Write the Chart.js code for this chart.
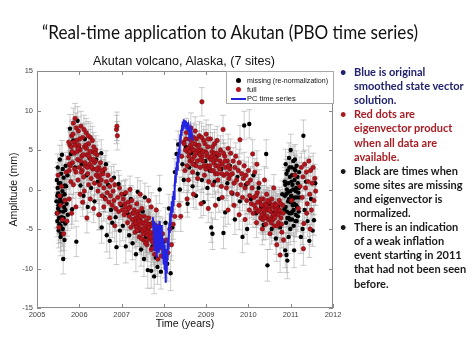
<!DOCTYPE html>
<html><head><meta charset="utf-8">
<script src="https://cdn.jsdelivr.net/npm/chart.js@4.4.1/dist/chart.umd.min.js"></script>
<style>
html,body{margin:0;padding:0;background:#fff;width:474px;height:355px;overflow:hidden}
#wrap{position:relative;width:474px;height:355px}
canvas{position:absolute;left:0;top:0}
.t{position:absolute;white-space:nowrap;transform-origin:left top;line-height:1}
#slideTitle{left:42px;top:21px;font-family:Lato,"Open Sans",sans-serif;font-size:20px;color:#111}
#chartTitle{left:93px;top:55px;font-family:"Liberation Sans",Arial,sans-serif;font-size:12.5px;color:#111}
#legend{position:absolute;left:226px;top:71px;width:106px;height:31px;border:1px solid #a8a8a8;background:#fff;font-family:"Liberation Sans",Arial,sans-serif;font-size:7.5px;color:#111}
#legend .row{position:absolute;left:0;height:9px;width:106px}
#legend .dot{position:absolute;left:9px;top:2px;width:5px;height:5px;border-radius:50%}
#legend .ln{position:absolute;left:4px;top:3.5px;width:15px;height:2px;background:#2222dd}
#legend .lt{position:absolute;left:20px;top:0.5px;white-space:nowrap;transform-origin:left top;line-height:1}
#bullets{position:absolute;left:0;top:0;font-family:Lato,"Open Sans",sans-serif;font-weight:700;font-size:11px}
#bullets .l{position:absolute;left:354px;white-space:nowrap;line-height:1;transform-origin:left top}
#bullets .b{position:absolute;left:340px;line-height:1}
</style>
</head><body>
<div id="wrap">
<canvas id="c" width="474" height="355"></canvas>
<div class="t" id="slideTitle">“Real-time application to Akutan (PBO time series)</div>
<div class="t" id="chartTitle">Akutan volcano, Alaska, (7 sites)</div>
<div id="legend">
  <div class="row" style="top:4px"><span class="dot" style="background:#000"></span><span class="lt" id="lg1">missing (re-normalization)</span></div>
  <div class="row" style="top:13px"><span class="dot" style="background:#b5121b"></span><span class="lt" id="lg2">full</span></div>
  <div class="row" style="top:22px"><span class="ln"></span><span class="lt" id="lg3">PC time series</span></div>
</div>
<div id="bullets"></div>
</div>
<script>
// ---------- DATA ----------
const xTicks = [2005, 2006, 2007, 2008, 2009, 2010, 2011, 2012];
const yTicks = [-15, -10, -5, 0, 5, 10, 15];

// "missing (re-normalization)" points: time (years), amplitude (mm), error (mm)
const blackT = [
2005.46,2005.47,2005.48,2005.49,2005.50,2005.51,2005.52,2005.53,2005.54,2005.55,2005.56,2005.57,2005.58,2005.59,2005.60,2005.61,2005.62,2005.63,2005.64,2005.65,2005.66,2005.67,2005.68,2005.70,2005.72,2005.73,
2005.47,2005.49,2005.51,2005.53,2005.55,2005.57,2005.59,2005.61,2005.63,2005.65,2005.67,2005.69,
2005.78,2005.80,2005.83,2005.86,2005.90,2005.93,2005.96,2006.00,2006.03,2006.06,2006.10,2006.13,2006.17,2006.20,2006.24,2006.28,2006.32,2006.36,2006.40,2006.44,2006.48,2006.52,2006.53,2006.56,2006.60,2006.63,2006.65,2006.68,2006.72,2006.75,2006.78,2006.82,2006.86,2006.88,2006.93,2006.96,2006.99,
2007.03,2007.07,2007.10,2007.14,2007.18,2007.22,2007.26,2007.30,2007.34,2007.38,2007.42,2007.46,2007.50,2007.53,2007.55,2007.58,2007.62,2007.66,2007.70,2007.73,2007.77,2007.81,2007.85,2007.90,2007.93,2008.00,2008.04,2008.08,2008.12,2008.16,2008.20,
2008.26,2008.30,2008.34,2008.38,2008.44,2008.47,2008.52,2008.56,2008.60,2008.64,2008.68,2008.72,2008.76,2008.80,2008.85,2008.90,2008.94,2008.98,2009.03,2009.08,2009.12,2009.15,2009.20,2009.25,2009.30,2009.36,2009.41,2009.45,2009.50,2009.56,2009.62,2009.68,2009.74,2009.80,2009.86,2009.90,2009.94,2009.97,2010.02,
2010.06,2010.12,2010.18,2010.24,2010.30,2010.36,2010.42,2010.45,2010.50,2010.55,2010.60,2010.65,2010.70,2010.75,2010.80,
2010.85,2010.86,2010.87,2010.88,2010.89,2010.90,2010.91,2010.92,2010.93,2010.94,2010.95,2010.96,2010.97,2010.98,2010.99,2011.00,2011.01,2011.02,2011.03,2011.04,2011.05,2011.06,2011.07,2011.08,2011.09,2011.10,2011.11,2011.12,2011.13,2011.14,2011.15,2011.16,2011.18,2011.20,
2010.86,2010.88,2010.90,2010.92,2010.94,2010.96,2010.98,2011.00,2011.02,2011.04,2011.06,2011.08,2011.10,2011.12,2011.14,2011.17,2011.19,2011.21,
2011.24,2011.28,2011.30,2011.33,2011.36,2011.40,2011.44,2011.48,2011.52,2011.55,2011.58,
2010.87,2010.89,2010.91,2010.93,2010.95,2010.97,2010.99,2011.01,2011.03,2011.05,2011.07,2011.09,2011.11,2011.13,2011.15,2011.17,2011.19,
2005.48,2005.50,2005.52,2005.54,2005.56,2005.58,2005.60,2005.62,2005.64,2005.66
];
const blackA = [
-1.5,1.2,-4.0,2.8,-0.5,-5.2,0.8,-2.8,3.8,-1.2,-6.0,2.0,-3.5,4.4,-0.2,-5.0,-8.8,1.5,-2.2,-6.4,0.5,-4.3,3.0,-1.8,1.8,-3.2,
-3.0,0.2,-2.0,-4.4,0.8,-5.6,-1.6,2.6,-3.6,-0.6,-2.6,0.4,
7.7,4.5,-2.5,6.2,2.8,-6.6,8.7,5.2,0.5,3.2,-0.8,6.4,1.8,-2.2,4.0,0.2,2.6,-1.5,3.8,1.0,-3.2,4.6,-4.8,2.2,-1.0,3.2,-5.8,0.6,-6.5,-2.6,-4.2,1.5,-3.5,-7.3,0.7,-5.2,-2.0,
-4.6,-0.6,-7.2,-3.0,-5.8,-1.2,-6.8,-3.8,-8.2,-0.3,-5.2,-7.6,-2.8,-8.8,-1.0,-6.0,-10.2,-4.4,-10.3,-7.2,-11.0,-8.6,-9.8,0.0,-10.4,-6.6,-4.2,-9.4,-2.4,-10.6,-4.8,
2.2,4.5,5.7,0.0,3.2,1.2,5.4,-1.8,2.8,4.6,0.4,3.2,-0.8,2.0,5.0,1.2,-1.6,3.6,0.2,2.4,-4.8,-5.6,1.0,4.2,-1.2,2.6,-5.5,-2.9,0.8,3.0,-0.5,-3.8,1.6,-1.5,-6.0,8.1,0.6,-5.0,8.3,
-1.2,1.8,-3.0,0.2,-2.2,-4.5,4.5,-9.6,-1.8,-5.0,-3.0,-6.2,-2.2,-4.8,-0.6,
-2.5,1.0,-7.7,3.2,-4.2,-8.3,0.0,-9.0,2.4,-1.5,-6.0,4.0,-3.0,1.6,-5.0,5.0,-0.8,2.8,-3.8,0.6,-2.0,3.6,-4.6,-7.7,1.2,-1.0,2.4,-3.2,0.2,3.0,-2.2,1.6,-0.4,2.2,
-0.8,-2.2,2.0,-3.6,0.8,-1.2,-3.8,-1.6,1.0,-2.8,0.0,-1.8,3.8,-0.2,-4.0,0.8,-2.8,-1.0,
-6.0,-5.0,6.8,-2.6,1.0,-4.0,-6.5,-1.2,-5.2,-3.9,0.8,
0.6,-0.6,-2.8,-0.4,-3.6,2.8,-0.2,-3.0,1.8,-1.2,-2.6,2.6,-4.0,-2.0,-1.0,-3.4,0.2,
-0.8,-2.4,-3.6,-1.6,-4.6,-0.8,-4.0,-2.8,0.4,-1.4
];
const blackE = [
1.8,1.6,2.0,1.7,1.8,2.2,1.6,1.9,1.8,1.7,2.4,1.6,2.0,1.8,1.7,2.2,1.9,1.6,1.8,2.3,1.6,2.0,1.7,1.8,1.6,2.0,
1.9,1.7,1.8,2.0,1.7,2.2,1.8,1.7,1.9,1.8,1.9,1.7,
1.8,1.7,1.9,1.8,1.6,1.9,1.8,1.7,1.6,1.8,1.7,1.9,1.6,1.8,1.7,1.6,1.8,1.7,1.8,1.6,1.9,1.7,2.0,1.6,1.8,1.7,2.1,1.6,2.2,1.8,1.9,1.7,1.8,2.2,1.7,2.0,1.8,
1.9,1.7,2.1,1.8,2.0,1.7,2.1,1.9,2.2,1.8,2.0,2.1,1.8,2.2,1.8,2.0,2.3,1.9,2.2,2.0,2.2,2.1,2.2,1.8,2.2,2.0,1.9,2.2,1.8,2.2,1.9,
1.7,1.8,1.7,1.6,1.7,1.6,1.8,1.7,1.6,1.8,1.6,1.7,1.7,1.6,1.8,1.6,1.7,1.7,1.6,1.7,1.9,2.0,1.6,1.8,1.7,1.7,2.0,1.8,1.6,1.7,1.7,1.9,1.6,1.7,2.0,1.8,1.6,1.9,1.8,
1.7,1.6,1.8,1.7,1.8,1.9,1.8,2.0,1.7,1.9,1.8,2.0,1.7,1.9,1.7,
1.9,1.8,2.2,1.9,2.0,2.2,1.8,2.3,1.8,1.9,2.1,1.9,1.9,1.8,2.0,2.0,1.8,1.9,2.0,1.8,1.9,1.9,2.0,2.2,1.8,1.8,1.9,1.9,1.8,1.9,1.9,1.8,1.8,1.9,
1.8,1.9,1.8,1.9,1.8,1.9,2.0,1.9,1.8,1.9,1.8,1.9,1.9,1.8,2.0,1.8,1.9,1.8,
2.1,2.0,2.0,1.9,1.8,2.0,2.1,1.8,2.0,1.9,1.8,
1.8,1.9,1.9,1.8,2.0,1.9,1.8,1.9,1.9,1.8,1.9,1.9,2.0,1.9,1.8,1.9,1.8,
1.8,1.9,2.0,1.8,2.1,1.8,2.0,1.9,1.7,1.8
];

// "full" points: time (years), amplitude (mm), error (mm)
const redT = [
2005.48,2005.50,2005.52,2005.54,2005.56,2005.58,2005.60,2005.63,2005.66,2005.69,2005.71,
2005.74,2005.76,2005.78,2005.80,2005.82,2005.84,2005.86,2005.88,2005.90,2005.92,
2005.94,2005.96,2005.98,2006.00,2006.02,2006.04,2006.06,2006.08,2006.10,2006.12,
2006.14,2006.16,2006.18,2006.20,2006.22,2006.24,2006.26,2006.28,2006.30,2006.32,
2006.34,2006.36,2006.38,2006.40,2006.42,2006.44,2006.46,2006.48,2006.50,2006.52,
2006.54,2006.56,2006.58,2006.60,2006.62,2006.64,2006.66,2006.68,2006.70,2006.72,
2006.74,2006.76,2006.78,2006.80,2006.82,2006.84,2006.86,2006.88,2006.89,2006.90,
2006.91,2006.93,2006.95,2006.97,
2005.75,2005.79,2005.83,2005.87,2005.91,2005.95,2005.99,2006.03,2006.07,2006.11,2006.15,2006.19,2006.23,2006.27,2006.31,2006.35,2006.39,2006.43,
2005.76,2005.82,2005.92,2006.02,2006.08,2006.18,2006.26,2006.34,2006.46,2006.58,2006.72,2006.84,2005.86,2005.97,2006.12,2006.22,
2007.00,2007.02,2007.04,2007.06,2007.08,2007.10,2007.12,2007.14,2007.16,2007.18,
2007.20,2007.22,2007.24,2007.26,2007.28,2007.30,2007.32,2007.34,2007.36,2007.38,
2007.40,2007.42,2007.44,2007.46,2007.48,2007.50,2007.52,2007.54,2007.56,2007.58,
2007.60,2007.62,2007.64,2007.66,2007.68,2007.70,2007.72,2007.74,2007.76,2007.78,
2007.80,2007.82,2007.84,2007.86,2007.88,2007.90,2007.92,2007.94,2007.97,2008.00,
2008.03,2008.06,2008.10,2008.14,2008.18,2008.22,2008.26,2007.20,2007.44,2007.64,
2007.82,2007.70,
2007.31,2007.35,2007.39,2007.43,2007.47,2007.51,2007.55,2007.59,2007.63,2007.67,2007.71,2007.75,2007.79,2007.83,2007.87,2007.91,
2008.42,2008.46,2008.50,2008.53,2008.56,2008.58,2008.60,2008.62,2008.64,2008.66,
2008.68,2008.70,2008.72,2008.74,2008.76,2008.78,2008.80,2008.82,2008.84,2008.86,
2008.88,2008.90,2008.92,2008.94,2008.96,2008.98,2009.00,2009.02,2009.04,2009.06,
2009.08,2009.10,2009.12,2009.14,2009.16,2009.18,2009.20,2009.22,2009.24,2009.26,
2009.28,2009.30,2009.32,2009.34,2009.36,2009.38,2009.40,2009.42,2009.44,2009.46,
2009.48,2009.50,2009.52,2009.54,2009.56,2009.58,2009.60,2009.62,2009.64,2009.66,
2009.68,2009.70,2009.72,2009.74,2009.76,2009.78,2009.80,2009.82,2009.84,2009.86,
2009.88,2009.90,2009.92,2009.94,2009.96,2009.98,2010.00,2010.03,
2008.51,2008.55,2008.59,2008.63,2008.67,2008.71,2008.75,2008.79,2008.83,2008.87,2008.91,2008.95,2008.99,2009.03,2009.07,2009.11,2009.15,2009.19,2009.23,2009.27,
2008.36,2008.40,2008.55,2008.70,2008.88,2009.05,2009.22,2009.38,2009.52,2009.66,2009.78,2009.92,2010.02,
2010.05,2010.07,2010.09,2010.11,2010.13,2010.15,2010.17,2010.19,2010.21,2010.23,
2010.25,2010.27,2010.29,2010.31,2010.33,2010.35,2010.37,2010.39,2010.41,2010.43,
2010.45,2010.47,2010.49,2010.51,2010.53,2010.55,2010.57,2010.59,2010.61,2010.63,
2010.65,2010.67,2010.69,2010.71,2010.73,2010.75,2010.77,2010.79,2010.81,2010.83,
2010.20,2010.10,2010.38,2010.60,
2010.32,2010.36,2010.40,2010.44,2010.48,2010.52,2010.56,2010.60,2010.64,2010.68,2010.72,2010.76,
2011.02,2011.10,2011.18,2011.22,2011.25,2011.27,2011.29,2011.31,2011.33,2011.35,
2011.37,2011.39,2011.41,2011.43,2011.45,2011.47,2011.49,2011.51,2011.53,2011.55,
2011.57,2011.59,2011.30,2011.46,2011.38,
2005.77,2005.81,2005.85,2005.89,2005.93,2005.97,2006.01,2006.05,2006.09,2006.13,2006.17,2006.21,2006.25,2006.29,2006.33,2006.37,2006.41,2006.45,2006.49,2006.53,
2007.29,2007.33,2007.37,2007.41,2007.45,2007.49,2007.53,2007.57,2007.61,2007.65,2007.69,2007.73,2007.77,2007.81,2007.85,2007.89,2007.93,2007.25,2007.17,2007.09,
2008.48,2008.52,2008.57,2008.61,2008.65,2008.69,2008.73,2008.77,2008.81,2008.85,2008.89,2008.93,2008.97,2009.01,2009.05,2009.09,2009.13,2009.17,2009.21,2009.25,2009.29,2009.33,2009.37,2009.41,2009.45,2009.49,2009.53,2009.57,
2010.26,2010.30,2010.34,2010.38,2010.42,2010.46,2010.50,2010.54,2010.58,2010.62,2010.66,2010.70,2010.74,2010.78,2010.82,2010.14,2010.18,2010.22
];
const redA = [
-3.0,1.8,-4.8,-0.8,-2.0,0.4,-3.8,-5.6,-1.4,2.2,-4.0,
4.0,2.4,5.6,1.0,6.8,3.4,8.4,4.6,9.0,2.2,
6.2,3.8,7.4,2.8,5.0,8.0,4.2,6.6,1.6,5.4,
3.0,7.2,4.4,2.0,5.8,3.2,6.6,1.4,4.8,2.6,
5.4,0.8,3.6,1.8,4.4,-0.2,2.8,0.6,3.4,1.2,
-0.8,2.0,0.2,2.6,-1.2,1.0,-0.4,1.8,-1.6,0.4,
-0.8,1.2,-2.0,-0.2,-1.4,0.6,-2.4,7.6,8.0,6.8,
-1.0,-2.8,0.2,-1.8,
6.0,3.0,4.8,6.0,5.6,4.8,5.6,3.6,2.4,7.6,5.6,2.8,4.2,3.8,6.2,3.4,5.0,2.4,
-1.2,-3.0,-2.2,-0.6,-1.6,-3.6,-1.2,-2.4,-3.2,-2.2,-3.6,-4.6,0.6,1.2,-0.2,0.6,
-0.6,-2.6,-1.2,-3.2,-1.8,-0.4,-2.8,-4.2,-1.6,-3.4,
-2.2,-4.8,-1.4,-3.0,-4.4,-2.6,-5.4,-3.6,-1.8,-4.6,
-2.8,-6.0,-3.8,-5.0,-2.4,-4.2,-6.4,-3.4,-5.4,-4.0,
-7.0,-5.0,-3.6,-6.2,-4.6,-7.6,-5.6,-4.2,-6.8,-8.2,
-5.2,-7.2,-6.0,-8.8,-4.6,-7.4,-6.2,-8.4,-5.6,-7.8,
-9.0,-6.4,-8.0,-5.0,-7.0,-4.4,-3.4,0.0,-0.6,-1.4,
-2.6,-2.2,
-3.8,-4.8,-3.2,-4.4,-6.2,-5.6,-4.6,-6.6,-4.4,-5.4,-6.4,-7.4,-6.2,-5.0,-7.0,-5.4,
4.2,6.0,2.4,7.2,4.8,1.2,6.4,3.6,7.8,5.2,
2.2,6.6,4.2,7.4,3.0,5.6,1.4,4.6,6.8,2.8,
5.0,11.1,3.6,6.2,1.8,4.8,7.0,3.0,5.4,1.0,
4.0,6.4,2.4,4.8,0.6,3.4,5.8,2.0,3.8,6.2,
1.2,4.4,2.6,5.0,0.4,3.2,7.6,1.8,4.2,2.8,
0.2,3.6,5.2,1.4,2.6,4.6,-0.4,2.0,3.6,0.8,
2.8,4.2,1.2,-0.6,2.4,3.4,6.3,0.6,2.0,-1.0,
1.4,3.0,0.2,1.8,-1.4,0.8,2.4,-0.8,
5.0,3.0,4.2,5.6,3.8,5.0,4.6,3.6,5.6,3.8,4.2,3.0,2.6,4.2,2.8,3.8,5.4,4.6,3.0,2.0,
-2.0,-3.4,-1.2,-0.6,-1.8,-2.4,-2.0,-1.0,-2.6,-2.0,-3.2,-3.8,-2.6,
1.2,-1.8,0.2,-3.0,-1.0,2.2,-2.4,-4.2,-0.4,-2.8,
0.8,-1.6,-3.6,-2.0,-5.0,-1.2,-3.0,-2.2,-4.4,-0.6,
-2.6,-3.8,-1.6,-5.6,-2.8,-1.2,-3.4,-2.2,-4.6,-1.8,
-3.0,-7.0,-2.4,-4.2,-1.4,-8.3,-3.6,-5.4,-2.0,-6.4,
3.2,4.5,1.2,0.2,
-3.2,-2.6,-1.8,-3.4,-2.4,-3.8,-2.0,-3.2,-2.6,-4.6,-3.0,-1.8,
-1.4,1.8,-2.4,0.4,2.8,-1.0,1.6,-4.3,3.2,0.2,
2.2,-1.8,1.0,3.6,-0.6,2.4,-2.6,0.8,2.8,-1.4,
1.4,-0.2,-7.5,-5.0,-3.0,
3.2,5.4,7.0,2.6,7.8,5.2,6.4,2.2,4.4,3.4,5.2,6.8,4.8,2.8,3.8,4.6,2.6,1.6,1.8,2.4,
-3.0,-4.2,-5.2,-4.0,-3.4,-5.2,-5.0,-6.8,-5.8,-4.8,-6.0,-6.6,-5.4,-6.6,-6.8,-6.0,-7.2,-3.8,-2.4,-2.2,
5.8,6.4,5.2,4.8,6.2,3.2,5.8,6.4,5.0,4.4,6.6,4.8,5.8,4.6,6.4,3.0,4.2,2.4,4.0,4.6,3.0,3.6,2.0,4.6,3.6,2.0,3.0,1.8,
-2.6,-1.2,-3.8,-3.6,-2.0,-1.4,-2.6,-4.2,-3.8,-3.6,-2.0,-3.2,-2.6,-4.4,-3.0,-2.0,-0.8,-1.6
];
const redE = [
1.8,1.6,2.0,1.7,1.8,1.6,1.9,2.1,1.7,1.6,1.9,
1.7,1.6,1.8,1.6,1.8,1.7,1.9,1.7,1.9,1.6,
1.8,1.7,1.8,1.6,1.7,1.9,1.7,1.8,1.6,1.7,
1.7,1.8,1.7,1.6,1.8,1.7,1.8,1.6,1.7,1.7,
1.8,1.6,1.7,1.6,1.7,1.6,1.7,1.6,1.7,1.6,
1.7,1.6,1.6,1.7,1.7,1.6,1.6,1.7,1.7,1.6,
1.6,1.7,1.7,1.6,1.7,1.6,1.8,1.8,1.8,1.8,
1.7,1.8,1.6,1.7,
1.8,1.7,1.7,1.8,1.8,1.7,1.8,1.7,1.6,1.8,1.8,1.7,1.7,1.7,1.8,1.7,1.8,1.7,
1.8,1.9,1.8,1.7,1.8,1.9,1.7,1.8,1.9,1.8,1.9,2.0,1.7,1.6,1.7,1.6,
1.7,1.8,1.7,1.8,1.7,1.7,1.8,1.9,1.7,1.8,
1.8,1.9,1.7,1.8,1.9,1.8,2.0,1.9,1.8,1.9,
1.8,2.0,1.9,1.9,1.8,1.9,2.0,1.9,2.0,1.9,
2.1,2.0,1.9,2.0,1.9,2.1,2.0,1.9,2.1,2.1,
2.0,2.1,2.0,2.2,1.9,2.1,2.0,2.2,2.0,2.1,
2.2,2.0,2.1,1.9,2.0,1.9,1.9,1.7,1.7,1.8,
1.8,1.8,
1.9,1.9,1.8,1.9,2.0,2.0,1.9,2.0,1.9,2.0,2.0,2.1,2.0,2.0,2.1,2.0,
1.8,1.8,1.7,1.8,1.7,1.6,1.8,1.7,1.9,1.8,
1.6,1.8,1.7,1.8,1.7,1.8,1.6,1.7,1.8,1.7,
1.7,1.8,1.7,1.8,1.6,1.7,1.8,1.7,1.8,1.6,
1.7,1.8,1.7,1.7,1.6,1.7,1.8,1.6,1.7,1.8,
1.6,1.7,1.7,1.8,1.6,1.7,1.8,1.6,1.7,1.7,
1.6,1.7,1.8,1.6,1.7,1.8,1.6,1.7,1.7,1.6,
1.7,1.7,1.6,1.7,1.7,1.7,1.8,1.6,1.7,1.7,
1.6,1.7,1.6,1.7,1.7,1.6,1.7,1.7,
1.8,1.7,1.7,1.8,1.7,1.8,1.7,1.7,1.8,1.7,1.7,1.7,1.7,1.8,1.7,1.7,1.8,1.7,1.7,1.6,
1.8,1.9,1.7,1.7,1.8,1.8,1.8,1.7,1.8,1.8,1.9,1.9,1.8,
1.7,1.8,1.7,1.8,1.7,1.7,1.8,1.9,1.7,1.8,
1.7,1.8,1.9,1.8,2.0,1.7,1.8,1.8,1.9,1.7,
1.8,1.9,1.8,2.0,1.8,1.7,1.9,1.8,1.9,1.8,
1.8,2.1,1.8,1.9,1.7,2.2,1.9,2.0,1.8,2.0,
1.7,1.8,1.7,1.7,
1.8,1.8,1.8,1.9,1.8,1.9,1.8,1.9,1.8,1.9,1.8,1.8,
1.8,1.8,1.9,1.8,1.8,1.8,1.8,1.9,1.8,1.8,
1.8,1.8,1.8,1.9,1.8,1.8,1.9,1.8,1.8,1.8,
1.8,1.8,2.1,2.0,1.9,
1.7,1.8,1.8,1.7,1.9,1.8,1.8,1.7,1.7,1.7,1.8,1.8,1.7,1.7,1.7,1.8,1.7,1.6,1.6,1.7,
1.9,1.9,2.0,1.9,1.9,2.0,2.0,2.1,2.0,1.9,2.0,2.1,2.0,2.1,2.1,2.0,2.1,1.9,1.8,1.8,
1.8,1.8,1.7,1.7,1.8,1.7,1.8,1.8,1.7,1.7,1.8,1.7,1.8,1.7,1.8,1.7,1.7,1.6,1.7,1.7,1.7,1.7,1.6,1.7,1.7,1.6,1.7,1.6,
1.8,1.7,1.9,1.9,1.8,1.7,1.8,1.9,1.9,1.9,1.8,1.9,1.8,1.9,1.8,1.8,1.7,1.7
];

// "PC time series" (smoothed state vector solution)
const pcT = [
2007.74,2007.75,2007.76,2007.77,2007.78,2007.79,2007.80,2007.81,2007.82,2007.83,
2007.84,2007.85,2007.86,2007.87,2007.88,2007.89,2007.90,2007.91,2007.92,2007.93,
2007.94,2007.95,2007.96,2007.97,2007.98,2007.99,2008.00,2008.01,2008.02,2008.03,
2008.04,2008.05,2008.06,2008.07,2008.08,2008.09,2008.10,2008.11,2008.12,2008.13,
2008.14,2008.15,2008.16,2008.17,2008.18,2008.19,2008.20,2008.21,2008.22,2008.23,
2008.24,2008.25,2008.26,2008.27,2008.28,2008.29,2008.30,2008.31,2008.32,2008.33,
2008.34,2008.35,2008.36,2008.37,2008.38,2008.39,2008.40,2008.41,2008.42,2008.43,
2008.44,2008.45,2008.46,2008.47,2008.48,2008.49,2008.50,2008.52,2008.53,2008.55,
2008.56,2008.58,2008.60,2008.62,2008.64,2008.66,2008.68
];
const pcA = [
-3.5,-5.0,-4.0,-6.5,-5.0,-7.8,-5.5,-4.2,-6.8,-8.6,
-6.0,-4.5,-7.2,-5.2,-8.0,-6.5,-4.0,-6.2,-5.0,-7.5,
-5.8,-4.5,-6.8,-8.8,-6.2,-7.8,-9.5,-7.0,-10.2,-8.0,
-11.8,-9.0,-10.5,-7.5,-8.8,-6.2,-7.5,-5.0,-6.5,-4.2,
-5.5,-3.0,-4.5,-2.2,-3.5,-1.5,-2.8,-0.8,-2.0,-0.2,
-1.2,0.8,-0.2,1.8,0.8,2.8,1.8,3.5,2.5,4.5,
3.5,5.2,4.5,6.0,5.2,7.0,6.2,7.6,6.8,8.2,
7.4,8.6,7.8,8.9,8.0,8.8,8.1,8.7,7.6,8.5,
7.4,8.0,6.8,7.6,6.5,7.2,6.2
];

// ---------- TEXT ----------
const bulletLines = [
  {text:'Blue is original', color:'#22226e', bullet:true},
  {text:'smoothed state vector', color:'#22226e'},
  {text:'solution.', color:'#22226e'},
  {text:'Red dots are', color:'#a81c24', bullet:true},
  {text:'eigenvector product', color:'#a81c24'},
  {text:'when all data are', color:'#a81c24'},
  {text:'available.', color:'#a81c24'},
  {text:'Black are times when', color:'#1a1a1a', bullet:true},
  {text:'some sites are missing', color:'#1a1a1a'},
  {text:'and eigenvector is', color:'#1a1a1a'},
  {text:'normalized.', color:'#1a1a1a'},
  {text:'There is an indication', color:'#1a1a1a', bullet:true},
  {text:'of a weak inflation', color:'#1a1a1a'},
  {text:'event starting in 2011', color:'#1a1a1a'},
  {text:'that had not been seen', color:'#1a1a1a'},
  {text:'before.', color:'#1a1a1a'}
];

const bl = document.getElementById('bullets');
bulletLines.forEach((ln, i) => {
  const top = 66 + i * 14.1;
  if (ln.bullet) {
    const b = document.createElement('div');
    b.className = 'b'; b.style.top = top + 'px'; b.style.color = ln.color; b.textContent = '•';
    bl.appendChild(b);
  }
  const d = document.createElement('div');
  d.className = 'l'; d.style.top = top + 'px'; d.style.color = ln.color; d.textContent = ln.text;
  bl.appendChild(d);
});

function pts(T, A) { return T.map((t, i) => ({x: t, y: A[i]})); }

const errPlugin = {
  id: 'errbars',
  beforeDatasetsDraw(chart) {
    const {ctx, chartArea: a, scales: {x, y}} = chart;
    ctx.save();
    ctx.beginPath(); ctx.rect(a.left, a.top, a.width, a.height); ctx.clip();
    ctx.strokeStyle = 'rgba(150,150,150,0.6)';
    ctx.lineWidth = 0.8;
    [[blackT, blackA, blackE], [redT, redA, redE]].forEach(([T, A, E]) => {
      T.forEach((t, i) => {
        const px = x.getPixelForValue(t);
        const y1 = y.getPixelForValue(A[i] + E[i]);
        const y2 = y.getPixelForValue(A[i] - E[i]);
        ctx.beginPath();
        ctx.moveTo(px, y1); ctx.lineTo(px, y2);
        ctx.moveTo(px - 3, y1); ctx.lineTo(px + 3, y1);
        ctx.moveTo(px - 3, y2); ctx.lineTo(px + 3, y2);
        ctx.stroke();
      });
    });
    ctx.restore();
  }
};

const framePlugin = {
  id: 'frame',
  afterDatasetsDraw(chart) {
    const {ctx, chartArea: a, scales: {x, y}} = chart;
    ctx.save();
    ctx.strokeStyle = '#8a8a8a';
    ctx.lineWidth = 1;
    ctx.strokeRect(Math.round(a.left) + 0.5, Math.round(a.top) + 0.5, Math.round(a.width) - 1, Math.round(a.height) - 1);
    ctx.beginPath();
    x.ticks.forEach(tk => {
      const px = Math.round(x.getPixelForValue(tk.value)) + 0.5;
      ctx.moveTo(px, a.bottom); ctx.lineTo(px, a.bottom - 4);
      ctx.moveTo(px, a.top); ctx.lineTo(px, a.top + 4);
    });
    y.ticks.forEach(tk => {
      const py = Math.round(y.getPixelForValue(tk.value)) + 0.5;
      ctx.moveTo(a.left, py); ctx.lineTo(a.left + 4, py);
      ctx.moveTo(a.right, py); ctx.lineTo(a.right - 4, py);
    });
    ctx.stroke();
    ctx.restore();
  }
};

const tickFont = {family: '"Liberation Sans", Arial, sans-serif', size: 7.5};
const titleFont = {family: '"Liberation Sans", Arial, sans-serif', size: 10.5};

new Chart(document.getElementById('c'), {
  type: 'scatter',
  data: {
    datasets: [
      {label: 'PC time series', data: pts(pcT, pcA), showLine: true, borderColor: '#2424e0', backgroundColor: '#2424e0',
       borderWidth: 2, pointRadius: 0, tension: 0, order: 0},
      {label: 'full', data: pts(redT, redA), backgroundColor: '#b3141c', borderColor: '#7a0c10', borderWidth: 0.6,
       pointRadius: 2.2, order: 1},
      {label: 'missing (re-normalization)', data: pts(blackT, blackA), backgroundColor: '#000', borderColor: '#000',
       borderWidth: 0, pointRadius: 2.2, order: 2}
    ]
  },
  options: {
    responsive: false,
    devicePixelRatio: 1,
    animation: false,
    events: [],
    layout: {padding: {left: 0, top: 71, right: 141, bottom: 0}},
    plugins: {legend: {display: false}, tooltip: {enabled: false}, title: {display: false}},
    scales: {
      x: {
        type: 'linear', min: xTicks[0], max: xTicks[xTicks.length - 1],
        afterBuildTicks: s => { s.ticks = xTicks.map(v => ({value: v})); },
        afterFit: s => { s.height = 47; },
        ticks: {font: tickFont, color: '#444', padding: 2, maxRotation: 0, autoSkip: false, callback: v => String(v)},
        grid: {display: false, drawTicks: false},
        border: {display: false},
        title: {display: true, text: 'Time (years)', font: titleFont, color: '#111', padding: {top: 0, bottom: 25}}
      },
      y: {
        type: 'linear', min: yTicks[0], max: yTicks[yTicks.length - 1],
        afterBuildTicks: s => { s.ticks = yTicks.map(v => ({value: v})); },
        afterFit: s => { s.width = 37; },
        ticks: {font: tickFont, color: '#444', padding: 4, autoSkip: false, callback: v => String(v)},
        grid: {display: false, drawTicks: false},
        border: {display: false},
        title: {display: true, text: 'Amplitude (mm)', font: titleFont, color: '#111', padding: {top: 8, bottom: 0}}
      }
    }
  },
  plugins: [errPlugin, framePlugin]
});

function fit(id, w) {
  const el = typeof id === 'string' ? document.getElementById(id) : id;
  el.style.transform = 'none';
  const r = el.getBoundingClientRect().width;
  if (r > 0) el.style.transform = 'scaleX(' + (w / r) + ')';
}
function fitAll() {
  fit('slideTitle', 376);
  fit('chartTitle', 182);
  fit('lg1', 81);
}
fitAll();
if (document.fonts && document.fonts.ready) document.fonts.ready.then(fitAll);
</script>
</body></html>
